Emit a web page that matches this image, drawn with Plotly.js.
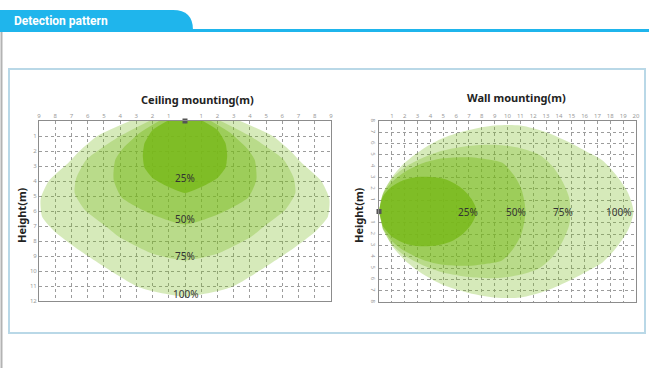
<!DOCTYPE html>
<html>
<head>
<meta charset="utf-8">
<script src="https://cdn.plot.ly/plotly-3.0.1.min.js"></script>
<style>
html,body{margin:0;padding:0;background:#fff;}
#chart{width:649px;height:368px;}
</style>
</head>
<body>
<div id="chart"></div>
<script>
// ---------- DATA ----------
// Ceiling mounting: half-width (m) at each depth (m), per coverage level
const ceil100D = [0, 1, 2, 2.8, 4.0, 5.2, 6.4, 7.4, 8.4, 9.7, 11.1, 11.7];
const ceil100W = [3.4, 5.4, 6.5, 7.2, 8.4, 8.9, 8.8, 8.0, 6.8, 5.0, 2.8, 0];
const ceil75D = [0, 1, 2, 2.6, 3.8, 4.8, 5.9, 7.0, 7.7, 8.8, 9.3];
const ceil75W = [2.2, 4.0, 5.4, 6.1, 6.7, 6.8, 6.2, 4.9, 4.1, 2.1, 0];
const ceil50D = [0, 0.8, 1.8, 2.6, 3.9, 5.1, 6.1, 6.6, 6.9];
const ceil50W = [1.6, 2.8, 3.8, 4.3, 4.4, 3.9, 2.3, 1.1, 0];
const ceil25D = [0, 0.6, 1.5, 2.3, 3.1, 3.8, 4.3, 4.8];
const ceil25W = [1.1, 2.0, 2.5, 2.6, 2.5, 2.0, 1.2, 0];
const ceilLabels = ["25%", "50%", "75%", "100%"];
const ceilLabelDepth = [3.8, 6.5, 9.0, 11.5];

// Wall mounting: half-height (m) at each distance (m), per coverage level
const wall100X = [0, 0.3, 1, 2, 3.5, 5, 7, 9, 11, 13, 15, 16.5, 17.4, 18.6, 19.4, 19.8];
const wall100H = [0, 1.5, 3.0, 4.3, 5.6, 6.5, 7.2, 7.6, 7.6, 7.0, 6.0, 5.1, 4.5, 3.0, 1.6, 0];
const wall75X = [0, 0.3, 1, 2, 3.5, 5, 7, 9, 11, 12.5, 13.5, 14.3, 14.8, 14.9];
const wall75H = [0, 1.6, 2.9, 3.9, 4.8, 5.4, 5.8, 5.9, 5.6, 5.0, 4.0, 2.6, 1.2, 0];
const wall50X = [0, 0.3, 1, 2, 3.5, 5, 7, 8.5, 9.6, 10.5, 11.1, 11.4];
const wall50H = [0, 1.5, 2.6, 3.5, 4.3, 4.7, 4.8, 4.6, 4.3, 3.2, 1.9, 0];
const wall25X = [0, 0.3, 1, 2, 3, 4.5, 5.5, 6.5, 7.2, 7.6];
const wall25H = [0, 1.3, 2.2, 2.8, 3.05, 3.0, 2.7, 2.0, 1.1, 0];
const wallLabels = ["25%", "50%", "75%", "100%"];
const wallLabelX = [6.9, 10.7, 14.3, 18.6];

// Tick labels
const ceilXTicks = [-9,-8,-7,-6,-5,-4,-3,-2,-1,0,1,2,3,4,5,6,7,8,9];
const ceilXText = ["9","8","7","6","5","4","3","2","1","","1","2","3","4","5","6","7","8","9"];
const ceilYTicks = [1,2,3,4,5,6,7,8,9,10,11,12];
const wallXTicks = [1,2,3,4,5,6,7,8,9,10,11,12,13,14,15,16,17,18,19,20];
const wallYTicks = [-8,-7,-6,-5,-4,-3,-2,-1,0,1,2,3,4,5,6,7,8];
const wallYText = ["8","7","6","5","4","3","2","1","","1","2","3","4","5","6","7","8"];

// ---------- STYLE ----------
const GREEN = "120,185,25";
const alphas = {"100": 0.30, "75": 0.30, "50": 0.42, "25": 0.80};
const FONT = "Noto Sans, Open Sans, sans-serif";

// mirror a half outline into a closed outline (points on the axis kept once)
function ceilPoly(D, W) {
  const x = [], y = [];
  for (let i = 0; i < D.length; i++) { x.push(W[i]); y.push(D[i]); }
  for (let i = D.length - 1; i >= 0; i--) {
    if (W[i] === 0) continue;
    x.push(-W[i]); y.push(D[i]);
  }
  return {x, y};
}
function wallPoly(X, H) {
  const x = [], y = [];
  for (let i = 0; i < X.length; i++) { x.push(X[i]); y.push(H[i]); }
  for (let i = X.length - 1; i >= 0; i--) {
    if (H[i] === 0) continue;
    x.push(X[i]); y.push(-H[i]);
  }
  return {x, y};
}
function area(p, level, xa, ya, sm) {
  return {
    type: "scatter", mode: "lines", x: p.x, y: p.y, xaxis: xa, yaxis: ya,
    fill: "toself", fillcolor: "rgba(" + GREEN + "," + alphas[level] + ")",
    line: {width: 0, shape: "spline", smoothing: sm, simplify: false},
    hoverinfo: "skip", showlegend: false
  };
}

const traces = [
  area(ceilPoly(ceil100D, ceil100W), "100", "x", "y", 0.6),
  area(ceilPoly(ceil75D, ceil75W), "75", "x", "y", 0.6),
  area(ceilPoly(ceil50D, ceil50W), "50", "x", "y", 0.6),
  area(ceilPoly(ceil25D, ceil25W), "25", "x", "y", 0.5),
  area(wallPoly(wall100X, wall100H), "100", "x2", "y2", 0.8),
  area(wallPoly(wall75X, wall75H), "75", "x2", "y2", 0.8),
  area(wallPoly(wall50X, wall50H), "50", "x2", "y2", 0.8),
  area(wallPoly(wall25X, wall25H), "25", "x2", "y2", 0.8),
  {type: "scatter", mode: "markers", x: [0], y: [0], xaxis: "x", yaxis: "y",
   marker: {symbol: "square", size: 5, color: "#555"}, cliponaxis: false, hoverinfo: "skip", showlegend: false},
  {type: "scatter", mode: "markers", x: [0], y: [0], xaxis: "x2", yaxis: "y2",
   marker: {symbol: "square", size: 5, color: "#555"}, cliponaxis: false, hoverinfo: "skip", showlegend: false}
];

const axisCommon = {
  showgrid: true, gridcolor: "#9c9c9c", griddash: "dot", gridwidth: 1,
  showline: true, mirror: true, linecolor: "#8c8c8c", linewidth: 1,
  zeroline: false, ticks: "", tickfont: {size: 6, color: "#9a9a9a", family: FONT},
  fixedrange: true
};

const annotations = [];
ceilLabels.forEach((t, i) => annotations.push({
  xref: "x", yref: "y", x: 0, y: ceilLabelDepth[i], text: t, showarrow: false,
  font: {size: 10, color: "#333", family: FONT}
}));
wallLabels.forEach((t, i) => annotations.push({
  xref: "x2", yref: "y2", x: wallLabelX[i], y: 0, text: t, showarrow: false,
  font: {size: 10, color: "#333", family: FONT}
}));
annotations.push(
  {xref: "paper", yref: "paper", x: 12/649, y: 1 - 21/368, xanchor: "left", yanchor: "middle",
   text: "<b>Detection pattern</b>", showarrow: false, font: {size: 12, color: "#fff", family: "Roboto, Noto Sans, sans-serif"}},
  {xref: "paper", yref: "paper", x: 197/649, y: 1 - 99/368, xanchor: "center", yanchor: "middle",
   text: "<b>Ceiling mounting(m)</b>", showarrow: false, font: {size: 11, color: "#222", family: FONT}},
  {xref: "paper", yref: "paper", x: 516/649, y: 1 - 98/368, xanchor: "center", yanchor: "middle",
   text: "<b>Wall mounting(m)</b>", showarrow: false, font: {size: 11, color: "#222", family: FONT}},
  {xref: "paper", yref: "paper", x: 21/649, y: 1 - 215/368, xanchor: "center", yanchor: "middle",
   text: "<b>Height(m)</b>", textangle: -90, showarrow: false, font: {size: 11, color: "#222", family: FONT}},
  {xref: "paper", yref: "paper", x: 358/649, y: 1 - 215/368, xanchor: "center", yanchor: "middle",
   text: "<b>Height(m)</b>", textangle: -90, showarrow: false, font: {size: 11, color: "#222", family: FONT}}
);

const px = v => v / 649, py = v => 1 - v / 368;
const shapes = [
  // header tab
  {type: "path", xref: "paper", yref: "paper",
   path: "M0," + py(32) + " L0," + py(10) + " L" + px(173) + "," + py(10) +
         " Q" + px(193) + "," + py(10) + " " + px(193) + "," + py(30) + " L" + px(193) + "," + py(32) + " Z",
   fillcolor: "#1fb5ec", line: {width: 0}, layer: "below"},
  {type: "rect", xref: "paper", yref: "paper", x0: px(192), x1: 1, y0: py(32), y1: py(29),
   fillcolor: "#1fb5ec", line: {width: 0}, layer: "below"},
  // left gray rule
  {type: "line", xref: "paper", yref: "paper", x0: px(1.5), x1: px(1.5), y0: py(32), y1: 0,
   line: {color: "#b3b3b3", width: 2}, layer: "below"},
  // light blue frame
  {type: "rect", xref: "paper", yref: "paper", x0: px(9), x1: px(645), y0: py(333), y1: py(69),
   fillcolor: "rgba(0,0,0,0)", line: {color: "#b9d8e7", width: 2}, layer: "below"}
];

const layout = {
  width: 649, height: 368, margin: {l: 0, r: 0, t: 0, b: 0},
  paper_bgcolor: "#fff", plot_bgcolor: "#fff", showlegend: false,
  font: {family: FONT},
  xaxis: Object.assign({}, axisCommon, {domain: [39/649, 331/649], anchor: "y", side: "top",
    range: [-9, 9], tickmode: "array", tickvals: ceilXTicks, ticktext: ceilXText}),
  yaxis: Object.assign({}, axisCommon, {domain: [1 - 301/368, 1 - 121/368], anchor: "x",
    range: [12, 0], tickmode: "array", tickvals: ceilYTicks}),
  xaxis2: Object.assign({}, axisCommon, {domain: [379/649, 636/649], anchor: "y2", side: "top",
    range: [0, 20], tickmode: "array", tickvals: wallXTicks}),
  yaxis2: Object.assign({}, axisCommon, {domain: [1 - 302/368, 1 - 121/368], anchor: "x2",
    range: [-8, 8], tickmode: "array", tickvals: wallYTicks, ticktext: wallYText.slice().reverse(), tickangle: 90}),
  annotations: annotations,
  shapes: shapes
};

Plotly.newPlot("chart", traces, layout, {displayModeBar: false, staticPlot: true});
</script>
</body>
</html>
